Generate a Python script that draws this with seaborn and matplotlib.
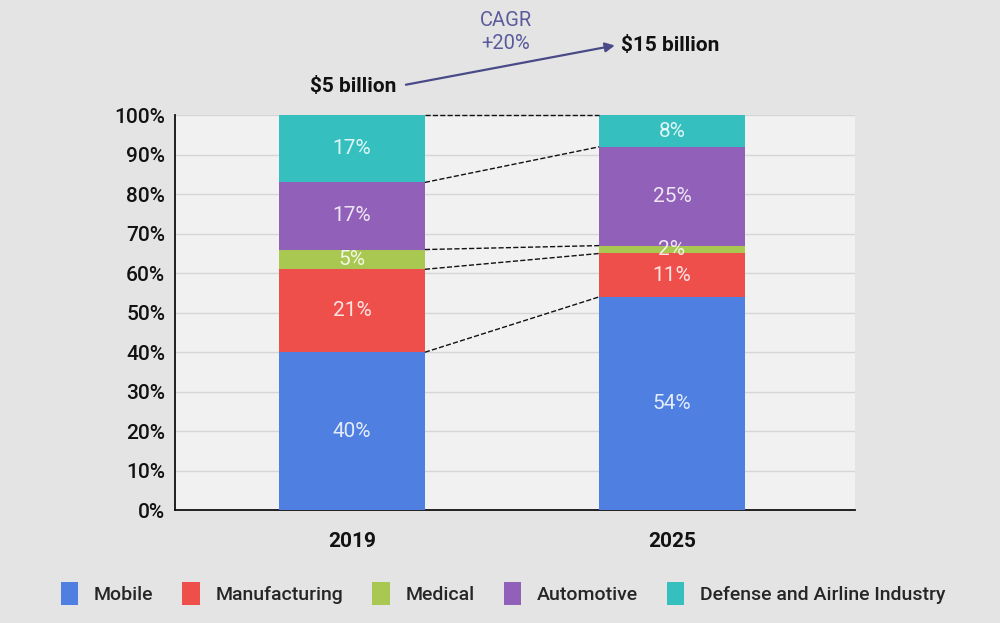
import numpy as np
import pandas as pd
import matplotlib
matplotlib.use('Agg')
import matplotlib.pyplot as plt
from matplotlib.patches import Patch
import seaborn as sns

sns.set_style("white")
plt.rcParams['font.family'] = ['Roboto', 'DejaVu Sans']

years = ['2019', '2025']
segments = ['Mobile', 'Manufacturing', 'Medical', 'Automotive', 'Defense and Airline Industry']
share_2019 = [40, 21, 5, 17, 17]
share_2025 = [54, 11, 2, 25, 8]
colors = ['#4f7fe0', '#ef4f4b', '#a9c852', '#9160b9', '#35c0bf']
market = ['$5 billion', '$15 billion']
cagr_text = 'CAGR\n+20%'

df = pd.DataFrame({'segment': segments * 2,
                   'year': [years[0]] * 5 + [years[1]] * 5,
                   'share': share_2019 + share_2025})
df['cum'] = df.groupby('year')['share'].cumsum()
df['mid'] = df['cum'] - df['share'] / 2

bar_w = 0.456
fig = plt.figure(figsize=(10, 6.23), dpi=100, facecolor='#e4e4e4')
ax = fig.add_axes([0.175, 0.181, 0.68, 0.634])
ax.set_facecolor('#f1f1f1')

# draw from top segment down so each lower cumulative bar covers the one above
for seg, col in reversed(list(zip(segments, colors))):
    sub = df[df['segment'] == seg]
    sns.barplot(data=sub, x='year', y='cum', color=col, width=bar_w,
                saturation=1, ax=ax, zorder=3, order=years, linewidth=0)

for _, r in df.iterrows():
    xi = years.index(r['year'])
    ax.text(xi, r['mid'], f"{r['share']}%", ha='center', va='center',
            color='white', alpha=0.85, fontsize=15, zorder=5)

# dashed connectors between matching boundaries
cum19 = df[df['year'] == years[0]]['cum'].values
cum25 = df[df['year'] == years[1]]['cum'].values
for a, b in zip(cum19, cum25):
    ax.plot([bar_w / 2, 1 - bar_w / 2], [a, b], ls='--', color='#111111',
            lw=1, zorder=4, clip_on=False)

ax.set_xlim(-0.553, 1.572)
ax.set_ylim(0, 100)
ax.set_yticks(np.arange(0, 101, 10))
ax.set_yticklabels([f'{v}%' for v in range(0, 101, 10)])
ax.yaxis.grid(True, color='#d6d6d6', lw=1, zorder=0)
ax.set_axisbelow(True)
ax.set_xlabel('')
ax.set_ylabel('')
for s in ['top', 'right']:
    ax.spines[s].set_visible(False)
for s in ['left', 'bottom']:
    ax.spines[s].set_color('#111111')
    ax.spines[s].set_linewidth(1.3)
ax.tick_params(axis='y', length=5, width=1, color='#111111', labelsize=15,
               labelcolor='#111111', pad=2)
ax.tick_params(axis='x', length=0, labelsize=15, pad=16, labelcolor='#111111')
for lbl in ax.get_yticklabels():
    lbl.set_fontweight('medium')
for lbl in ax.get_xticklabels():
    lbl.set_fontweight('bold')

# market size annotation
ax.text(0.14, 107.3, market[0], ha='right', va='center', fontsize=15,
        fontweight='bold', color='#111111', clip_on=False)
ax.text(0.84, 117.7, market[1], ha='left', va='center', fontsize=15,
        fontweight='bold', color='#111111', clip_on=False)
ax.annotate('', xy=(0.83, 117.8), xytext=(0.16, 107.6),
            arrowprops=dict(arrowstyle='-|>', color='#4a4a88', lw=1.6,
                            mutation_scale=14), annotation_clip=False)
ax.text(0.48, 121, cagr_text, ha='center', va='center', fontsize=14.5,
        color='#5a5a9c', linespacing=1.25, clip_on=False)

handles = [Patch(facecolor=c, edgecolor='none') for c in colors]
fig.legend(handles, segments, loc='center', bbox_to_anchor=(0.503, 0.047),
           ncol=5, frameon=False, handlelength=0.9,
           handleheight=1.4, columnspacing=1.5, handletextpad=0.8,
           prop={'weight': 'medium', 'size': 14})

fig.savefig('out.png', dpi=100, facecolor=fig.get_facecolor())
